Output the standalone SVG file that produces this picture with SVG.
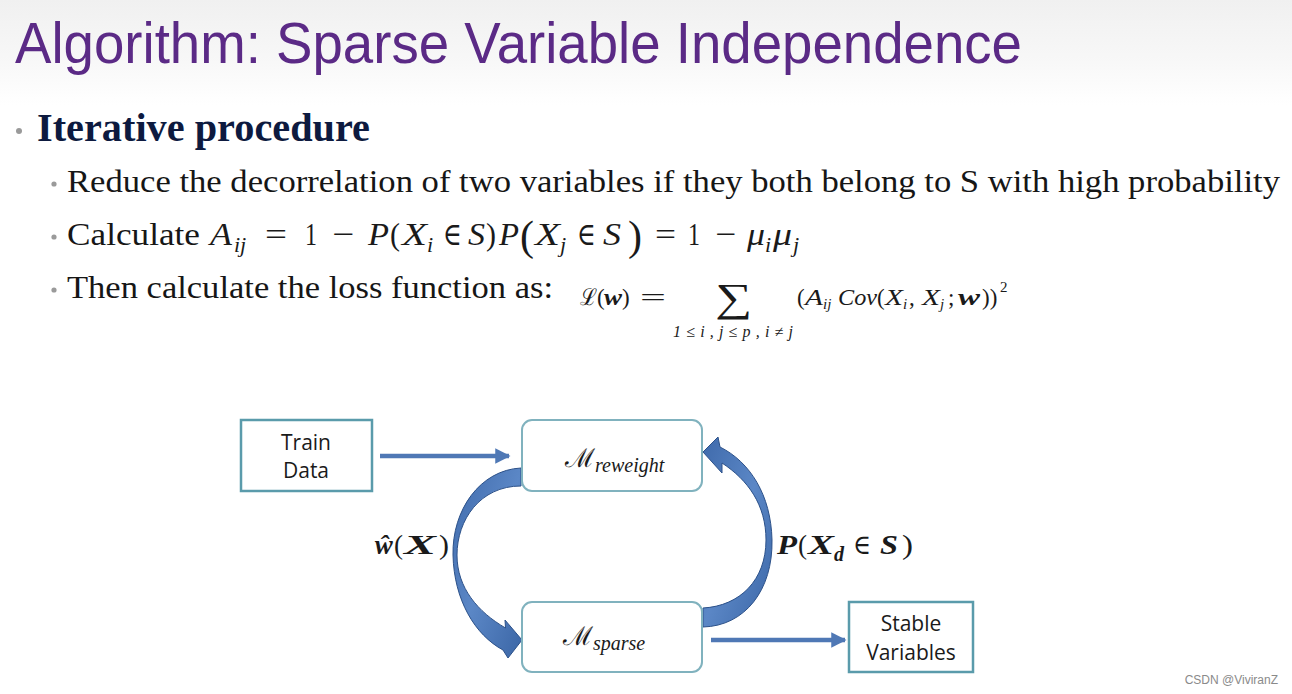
<svg xmlns="http://www.w3.org/2000/svg" width="1292" height="694" viewBox="0 0 1292 694">
<defs>
<linearGradient id="bg" x1="0" y1="0" x2="0" y2="1">
<stop offset="0" stop-color="#f0f0f0"/>
<stop offset="0.6" stop-color="#f8f8f8"/>
<stop offset="1" stop-color="#ffffff"/>
</linearGradient>
<linearGradient id="blk" x1="0" y1="0" x2="1" y2="1">
<stop offset="0" stop-color="#3f6aab"/>
<stop offset="0.5" stop-color="#5b87c6"/>
<stop offset="1" stop-color="#3b66a6"/>
</linearGradient>
<marker id="ah" viewBox="0 0 10 10" refX="9" refY="5" markerWidth="3.4" markerHeight="3.4" markerUnits="strokeWidth" orient="auto">
<path d="M0,0 L10,5 L0,10 Z" fill="#4f78b5"/>
</marker>
<style>
.t{font-family:"Liberation Serif","Times New Roman",serif;fill:#161616}
.m{font-family:"Liberation Serif","DejaVu Serif",serif;fill:#1a1a1a}
.i{font-style:italic}
.b{font-weight:bold}
.lab{font-family:"Open Sans","Liberation Sans",sans-serif;font-size:21px;fill:#1a1a1a;text-anchor:middle}
.box{fill:#ffffff;stroke:#5a9bab;stroke-width:2.5}
.rbox{fill:#ffffff;stroke:#80b2be;stroke-width:2}
.dot{fill:#9a9a9a}
.line{stroke:#4f78b5;stroke-width:4.5;fill:none}
.blk{fill:url(#blk);stroke:#2c5189;stroke-width:1}
</style>
</defs>
<rect width="1292" height="694" fill="#ffffff"/>
<rect width="1292" height="105" fill="url(#bg)"/>

<g id="title">
<text x="15" y="63" font-family="Liberation Sans, Arial, sans-serif" font-size="57" fill="#5b2a86" textLength="1007" lengthAdjust="spacingAndGlyphs">Algorithm: Sparse Variable Independence</text>
</g>

<g id="bullets">
<circle class="dot" cx="19" cy="131" r="3"/>
<text class="t b" x="37" y="141" font-size="40" style="fill:#0d1a3f" textLength="333" lengthAdjust="spacingAndGlyphs">Iterative procedure</text>

<circle class="dot" cx="54" cy="184" r="2.6"/>
<text class="t" x="67" y="192" font-size="32" textLength="1213" lengthAdjust="spacingAndGlyphs">Reduce the decorrelation of two variables if they both belong to S with high probability</text>

<circle class="dot" cx="54" cy="237" r="2.6"/>
<text class="t" x="67" y="245" font-size="32" textLength="133" lengthAdjust="spacingAndGlyphs">Calculate</text>
<g font-size="32">
<text class="m i" x="210" y="245" textLength="22" lengthAdjust="spacingAndGlyphs">A</text>
<text class="m i" x="234" y="252" font-size="22">ij</text>
<text class="m" x="265" y="245" textLength="22" lengthAdjust="spacingAndGlyphs">=</text>
<text class="m" x="305" y="245" textLength="12" lengthAdjust="spacingAndGlyphs">1</text>
<text class="m" x="332" y="245" textLength="22" lengthAdjust="spacingAndGlyphs">−</text>
<text class="m i" x="368" y="245" textLength="21" lengthAdjust="spacingAndGlyphs">P</text>
<text class="m" x="390" y="245" textLength="10" lengthAdjust="spacingAndGlyphs">(</text>
<text class="m i" x="402" y="245" textLength="25" lengthAdjust="spacingAndGlyphs">X</text>
<text class="m i" x="427" y="252" font-size="22">i</text>
<text class="m" x="443" y="245" textLength="19" lengthAdjust="spacingAndGlyphs">∈</text>
<text class="m i" x="468" y="245" textLength="17" lengthAdjust="spacingAndGlyphs">S</text>
<text class="m" x="486" y="245" textLength="10" lengthAdjust="spacingAndGlyphs">)</text>
<text class="m i" x="499" y="245" textLength="20" lengthAdjust="spacingAndGlyphs">P</text>
<text class="m" x="520" y="250" font-size="42" textLength="14" lengthAdjust="spacingAndGlyphs">(</text>
<text class="m i" x="535" y="245" textLength="25" lengthAdjust="spacingAndGlyphs">X</text>
<text class="m i" x="560" y="252" font-size="22">j</text>
<text class="m" x="577" y="245" textLength="19" lengthAdjust="spacingAndGlyphs">∈</text>
<text class="m i" x="603" y="245" textLength="18" lengthAdjust="spacingAndGlyphs">S</text>
<text class="m" x="628" y="250" font-size="42" textLength="14" lengthAdjust="spacingAndGlyphs">)</text>
<text class="m" x="655" y="245" textLength="21" lengthAdjust="spacingAndGlyphs">=</text>
<text class="m" x="688" y="245" textLength="12" lengthAdjust="spacingAndGlyphs">1</text>
<text class="m" x="715" y="245" textLength="21" lengthAdjust="spacingAndGlyphs">−</text>
<text class="m i" x="747" y="245" textLength="18" lengthAdjust="spacingAndGlyphs">μ</text>
<text class="m i" x="765" y="252" font-size="22">i</text>
<text class="m i" x="773" y="245" textLength="19" lengthAdjust="spacingAndGlyphs">μ</text>
<text class="m i" x="793" y="252" font-size="22">j</text>
</g>

<circle class="dot" cx="54" cy="290" r="2.6"/>
<text class="t" x="67" y="298" font-size="32" textLength="486" lengthAdjust="spacingAndGlyphs">Then calculate the loss function as:</text>
<g font-size="23">
<text class="m" x="580" y="305" textLength="17" lengthAdjust="spacingAndGlyphs">ℒ</text>
<text class="m" x="597" y="305">(</text>
<text class="m b i" x="604" y="305" textLength="18" lengthAdjust="spacingAndGlyphs">w</text>
<text class="m" x="622" y="305">)</text>
<text class="m" x="640" y="305" textLength="26" lengthAdjust="spacingAndGlyphs">=</text>
<text class="m" x="715" y="311" font-size="40" textLength="37" lengthAdjust="spacingAndGlyphs">∑</text>
<text class="m i" x="673" y="337" font-size="16" textLength="120" lengthAdjust="spacing">1≤i,j≤p,i≠j</text>
<text class="m" x="797" y="305">(</text>
<text class="m i" x="805" y="305" textLength="18" lengthAdjust="spacingAndGlyphs">A</text>
<text class="m i" x="823" y="309" font-size="15">ij</text>
<text class="m i" x="838" y="305" textLength="39" lengthAdjust="spacingAndGlyphs">Cov</text>
<text class="m" x="877" y="305">(</text>
<text class="m i" x="885" y="305" textLength="18" lengthAdjust="spacingAndGlyphs">X</text>
<text class="m i" x="903" y="309" font-size="15">i</text>
<text class="m" x="909" y="305">,</text>
<text class="m i" x="922" y="305" textLength="18" lengthAdjust="spacingAndGlyphs">X</text>
<text class="m i" x="940" y="309" font-size="15">j</text>
<text class="m" x="948" y="305">;</text>
<text class="m b i" x="958" y="305" textLength="22" lengthAdjust="spacingAndGlyphs">w</text>
<text class="m" x="982" y="305">))</text>
<text class="m" x="1000" y="292" font-size="15">2</text>
</g>
</g>

<g id="connectors">
<line class="line" x1="380" y1="456" x2="509" y2="456" marker-end="url(#ah)"/>
<line class="line" x1="711" y1="640" x2="845" y2="640" marker-end="url(#ah)"/>
<path class="blk" d="M521,468 C480,470 452,510 453,555 C454,600 475,635 503,650 L508,658 L522,640 L505,620 L505.5,628 C478,612 457,588 457,555 C457,520 480,486 521,486 Z"/>
<path class="blk" d="M703,627 C745,626 773,590 772,540 C771,495 750,462 720,447 L718,437 L703,452 L722,473 L722,463 C748,480 766,505 766,540 C766,580 740,606 703,608 Z"/>
<g font-size="28">
<text class="m b i" x="375" y="554" textLength="18" lengthAdjust="spacingAndGlyphs">ŵ</text>
<text class="m" x="394" y="554" textLength="9" lengthAdjust="spacingAndGlyphs">(</text>
<text class="m b i" x="404" y="554" textLength="32" lengthAdjust="spacingAndGlyphs">X</text>
<text class="m" x="439" y="554" textLength="10" lengthAdjust="spacingAndGlyphs">)</text>
<text class="m b i" x="777" y="554" textLength="20" lengthAdjust="spacingAndGlyphs">P</text>
<text class="m" x="798" y="554" textLength="9" lengthAdjust="spacingAndGlyphs">(</text>
<text class="m b i" x="808" y="554" textLength="26" lengthAdjust="spacingAndGlyphs">X</text>
<text class="m b i" x="834" y="561" font-size="20">d</text>
<text class="m" x="853" y="554" textLength="18" lengthAdjust="spacingAndGlyphs">∈</text>
<text class="m b i" x="880" y="554" textLength="18" lengthAdjust="spacingAndGlyphs">S</text>
<text class="m" x="902" y="554" textLength="11" lengthAdjust="spacingAndGlyphs">)</text>
</g>
</g>

<g id="node-train">
<rect class="box" x="241" y="420" width="131" height="71"/>
<text class="lab" x="306" y="450">Train</text>
<text class="lab" x="306" y="478">Data</text>
</g>

<g id="node-reweight">
<rect class="rbox" x="522" y="420" width="180" height="71" rx="10"/>
<text class="m" x="565" y="467" font-size="26">ℳ<tspan class="i" font-size="20" dy="5">reweight</tspan></text>
</g>

<g id="node-sparse">
<rect class="rbox" x="522" y="602" width="180" height="70" rx="10"/>
<text class="m" x="563" y="645" font-size="26">ℳ<tspan class="i" font-size="20" dy="5">sparse</tspan></text>
</g>

<g id="node-stable">
<rect class="box" x="849" y="602" width="124" height="70"/>
<text class="lab" x="911" y="631">Stable</text>
<text class="lab" x="911" y="660">Variables</text>
</g>

<text x="1278" y="684" font-family="Liberation Sans, Arial, sans-serif" font-size="12" fill="#8a8a8a" text-anchor="end">CSDN @ViviranZ</text>
</svg>
